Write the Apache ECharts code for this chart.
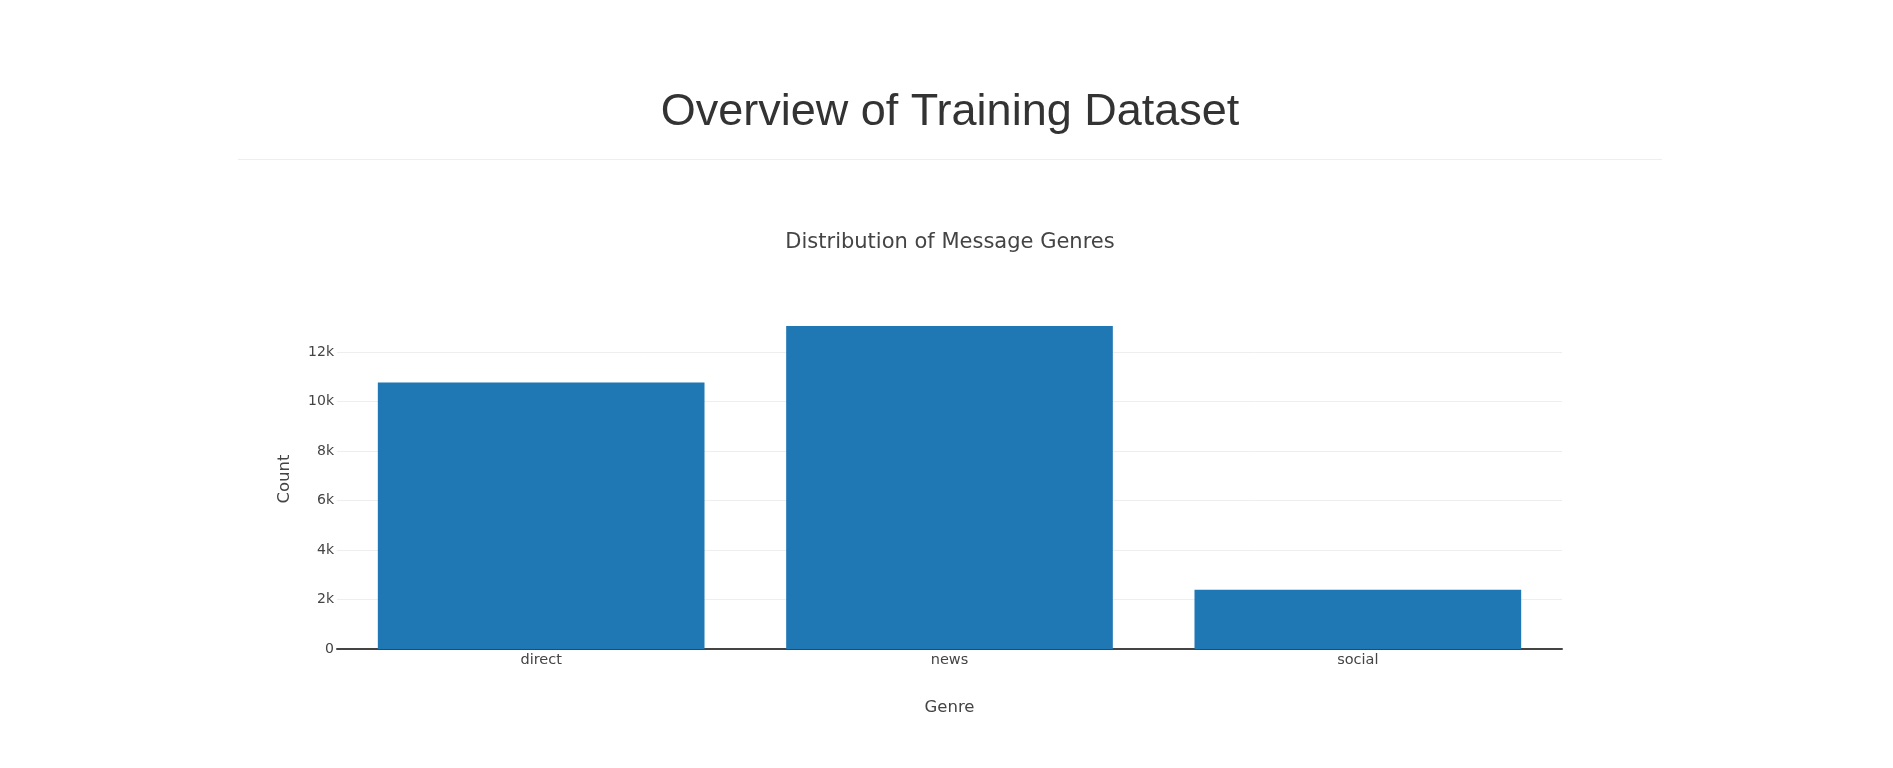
<!DOCTYPE html>
<html>
<head>
<meta charset="utf-8">
<script src="https://cdn.jsdelivr.net/npm/echarts@6/dist/echarts.min.js"></script>
<style>
html,body{margin:0;padding:0;background:#fff;}
#chart{width:1893px;height:768px;}
</style>
</head>
<body>
<div id="chart"></div>
<script>
const pageTitle = 'Overview of Training Dataset';
const chartTitle = 'Distribution of Message Genres';
const genres = ['direct', 'news', 'social'];
const counts = [10766, 13054, 2396];
const xAxisTitle = 'Genre';
const yAxisTitle = 'Count';

const plotFont = 'DejaVu Sans, Verdana, sans-serif';
const yMax = Math.max(...counts) * 1.0526;
const chart = echarts.init(document.getElementById('chart'));
chart.setOption({
  animation: false,
  title: [
    { text: pageTitle, left: 950, top: 90, textAlign: 'center', padding: 0,
      textStyle: { fontFamily: 'Liberation Sans, Arial, sans-serif', fontSize: 45, fontWeight: 'normal', color: '#333' } },
    { text: chartTitle, left: 950, top: 232, textAlign: 'center', padding: 0,
      textStyle: { fontFamily: plotFont, fontSize: 21, fontWeight: 'normal', color: '#444' } }
  ],
  graphic: [
    { type: 'line', shape: { x1: 238, y1: 159.5, x2: 1662, y2: 159.5 }, style: { stroke: '#eeeeee', lineWidth: 1 }, silent: true }
  ],
  grid: { left: 337, right: 331, top: 309, bottom: 119, containLabel: false },
  xAxis: {
    type: 'category',
    data: genres,
    name: xAxisTitle,
    nameLocation: 'middle',
    nameGap: 50,
    nameTextStyle: { fontFamily: plotFont, fontSize: 16.5, color: '#444' },
    axisLine: { lineStyle: { color: '#444', width: 2 } },
    axisTick: { show: false },
    axisLabel: { fontFamily: plotFont, fontSize: 14.5, color: '#444', margin: 4 }
  },
  yAxis: {
    type: 'value',
    min: 0,
    max: yMax,
    interval: 2000,
    name: yAxisTitle,
    nameLocation: 'middle',
    nameGap: 44,
    nameRotate: 90,
    nameTextStyle: { fontFamily: plotFont, fontSize: 16.5, color: '#444' },
    axisLine: { show: false },
    axisTick: { show: false },
    axisLabel: {
      fontFamily: plotFont, fontSize: 14, color: '#444', margin: 3,
      showMaxLabel: false,
      formatter: v => (v % 2000 !== 0 ? '' : (v === 0 ? '0' : (v / 1000) + 'k'))
    },
    splitLine: { showMaxLine: false, lineStyle: { color: '#eeeeee', width: 1 } }
  },
  series: [{
    type: 'bar',
    data: counts,
    barCategoryGap: '20%',
    itemStyle: { color: '#1f77b4' }
  }]
});
</script>
</body>
</html>
